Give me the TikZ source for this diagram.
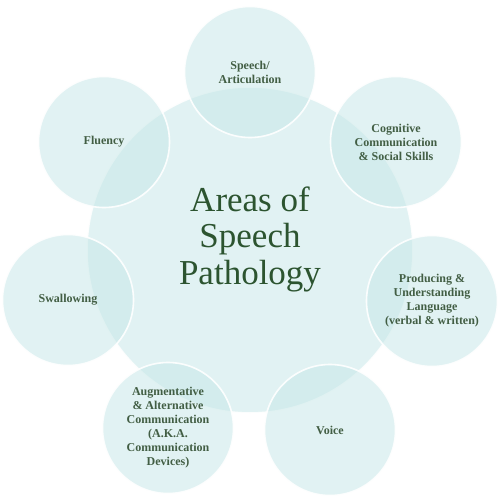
\documentclass[tikz,border=0pt]{standalone}
\usepackage{fontspec}
\setmainfont{Liberation Serif}
\definecolor{areafill}{RGB}{196,230,231}
\definecolor{titlegreen}{RGB}{44,84,48}
\definecolor{labelgreen}{RGB}{66,94,68}
\tikzset{
  area/.style={circle, minimum size=131pt, inner sep=0pt, fill=areafill,
    fill opacity=0.5, draw=white, draw opacity=0.9, line width=1.6pt,
    text opacity=1, text=labelgreen, align=center,
    font=\bfseries\fontsize{12}{14}\selectfont},
  hub/.style={area, minimum size=326pt},
  title/.style={text=titlegreen, align=center, font=\fontsize{35}{36.5}\selectfont}
}
\begin{document}
\begin{tikzpicture}[x=1pt, y=-1pt]
    \useasboundingbox (0,0) rectangle (500,500);
    \node[hub] (hub) at (250,250) {};
    \node[title] (title) at (250,239) {Areas of\\Speech\\Pathology};
    \node[area] (speech) at (250,72) {Speech/\\Articulation};
    \node[area] (cognitive) at (396,142) {Cognitive\\Communication\\\& Social Skills};
    \node[area] (language) at (432,301) {Producing \&\\Understanding\\Language\\(verbal \& written)};
    \node[area] (voice) at (330,430) {Voice};
    \node[area] (aac) at (168,428) {Augmentative\\\& Alternative\\Communication\\(A.K.A.\\Communication\\Devices)};
    \node[area] (swallowing) at (68,300) {Swallowing};
    \node[area] (fluency) at (104,142) {Fluency};
\end{tikzpicture}
\end{document}
